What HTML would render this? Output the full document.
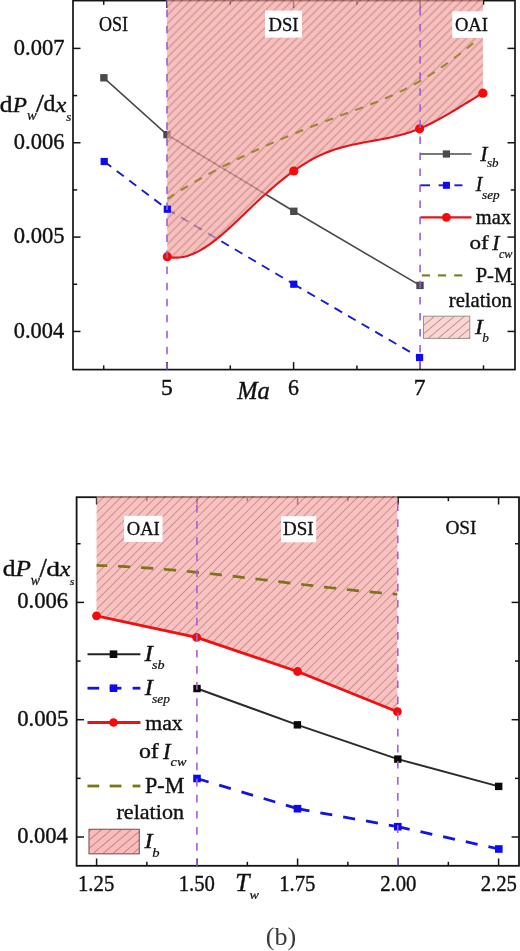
<!DOCTYPE html>
<html><head><meta charset="utf-8"><style>
html,body{margin:0;padding:0;background:#fff;}
svg{display:block;}
text{font-family:"Liberation Serif","DejaVu Serif",serif;font-variant-ligatures:none;}
</style></head><body>
<svg width="520" height="951" viewBox="0 0 520 951">
<defs>
<pattern id="h1" patternUnits="userSpaceOnUse" width="20" height="6.0" patternTransform="rotate(-45)">
<rect width="20" height="6.0" fill="#f6a4a1"/><line x1="0" y1="3.0" x2="20" y2="3.0" stroke="#944c4c" stroke-width="0.9"/></pattern>
<pattern id="h2" patternUnits="userSpaceOnUse" width="20" height="6.2" patternTransform="rotate(-45)">
<rect width="20" height="6.2" fill="#f6a6a4"/><line x1="0" y1="3.1" x2="20" y2="3.1" stroke="#8e4848" stroke-width="0.75"/></pattern>
<pattern id="hl" patternUnits="userSpaceOnUse" width="20" height="6.4" patternTransform="rotate(-40)">
<rect width="20" height="6.4" fill="#fad6d3"/><line x1="0" y1="3.2" x2="20" y2="3.2" stroke="#b88888" stroke-width="0.9"/></pattern>
<pattern id="hl2" patternUnits="userSpaceOnUse" width="20" height="6.4" patternTransform="rotate(-40)">
<rect width="20" height="6.4" fill="#f8bcbc"/><line x1="0" y1="3.2" x2="20" y2="3.2" stroke="#c07a7a" stroke-width="0.9"/></pattern>
</defs><rect x="73.00" y="0.60" width="442.00" height="369.00" fill="none" stroke="#141414" stroke-width="1.7"/><line x1="167.00" y1="369.60" x2="167.00" y2="362.10" stroke="#141414" stroke-width="1.50"/><line x1="167.00" y1="0.60" x2="167.00" y2="8.10" stroke="#141414" stroke-width="1.50"/><line x1="293.60" y1="369.60" x2="293.60" y2="362.10" stroke="#141414" stroke-width="1.50"/><line x1="293.60" y1="0.60" x2="293.60" y2="8.10" stroke="#141414" stroke-width="1.50"/><line x1="420.20" y1="369.60" x2="420.20" y2="362.10" stroke="#141414" stroke-width="1.50"/><line x1="420.20" y1="0.60" x2="420.20" y2="8.10" stroke="#141414" stroke-width="1.50"/><line x1="103.70" y1="369.60" x2="103.70" y2="365.40" stroke="#141414" stroke-width="1.50"/><line x1="103.70" y1="0.60" x2="103.70" y2="4.80" stroke="#141414" stroke-width="1.50"/><line x1="230.30" y1="369.60" x2="230.30" y2="365.40" stroke="#141414" stroke-width="1.50"/><line x1="230.30" y1="0.60" x2="230.30" y2="4.80" stroke="#141414" stroke-width="1.50"/><line x1="356.90" y1="369.60" x2="356.90" y2="365.40" stroke="#141414" stroke-width="1.50"/><line x1="356.90" y1="0.60" x2="356.90" y2="4.80" stroke="#141414" stroke-width="1.50"/><line x1="483.50" y1="369.60" x2="483.50" y2="365.40" stroke="#141414" stroke-width="1.50"/><line x1="483.50" y1="0.60" x2="483.50" y2="4.80" stroke="#141414" stroke-width="1.50"/><line x1="73.00" y1="331.45" x2="80.50" y2="331.45" stroke="#141414" stroke-width="1.50"/><line x1="515.00" y1="331.45" x2="507.50" y2="331.45" stroke="#141414" stroke-width="1.50"/><line x1="73.00" y1="237.10" x2="80.50" y2="237.10" stroke="#141414" stroke-width="1.50"/><line x1="515.00" y1="237.10" x2="507.50" y2="237.10" stroke="#141414" stroke-width="1.50"/><line x1="73.00" y1="142.75" x2="80.50" y2="142.75" stroke="#141414" stroke-width="1.50"/><line x1="515.00" y1="142.75" x2="507.50" y2="142.75" stroke="#141414" stroke-width="1.50"/><line x1="73.00" y1="48.40" x2="80.50" y2="48.40" stroke="#141414" stroke-width="1.50"/><line x1="515.00" y1="48.40" x2="507.50" y2="48.40" stroke="#141414" stroke-width="1.50"/><line x1="73.00" y1="284.28" x2="77.20" y2="284.28" stroke="#141414" stroke-width="1.50"/><line x1="515.00" y1="284.28" x2="510.80" y2="284.28" stroke="#141414" stroke-width="1.50"/><line x1="73.00" y1="189.93" x2="77.20" y2="189.93" stroke="#141414" stroke-width="1.50"/><line x1="515.00" y1="189.93" x2="510.80" y2="189.93" stroke="#141414" stroke-width="1.50"/><line x1="73.00" y1="95.58" x2="77.20" y2="95.58" stroke="#141414" stroke-width="1.50"/><line x1="515.00" y1="95.58" x2="510.80" y2="95.58" stroke="#141414" stroke-width="1.50"/><path d="M103.90 77.80 L167.00 134.60 L293.80 211.30 L420.00 285.40" fill="none" stroke="#4a4a4a" stroke-width="1.6"/><rect x="100.20" y="74.10" width="7.40" height="7.40" fill="#4a4a4a"/><rect x="163.30" y="130.90" width="7.40" height="7.40" fill="#4a4a4a"/><rect x="290.10" y="207.60" width="7.40" height="7.40" fill="#4a4a4a"/><rect x="416.30" y="281.70" width="7.40" height="7.40" fill="#4a4a4a"/><path d="M104.20 161.50 L167.30 209.20" fill="none" stroke="#1a1ad0" stroke-width="1.9" stroke-dasharray="8.8 6.9"/><path d="M167.30 209.20 L293.80 284.20" fill="none" stroke="#1a1ad0" stroke-width="1.9" stroke-dasharray="8.8 6.9"/><path d="M293.80 284.20 L419.60 357.50" fill="none" stroke="#1a1ad0" stroke-width="1.9" stroke-dasharray="8.8 6.9"/><path d="M167.0 0.00 L483.0 0.00 L483.0 93.2  L482.70 93.14 L481.30 93.97 L479.30 95.17 L477.30 96.38 L475.30 97.60 L473.30 98.82 L471.30 100.04 L469.30 101.27 L467.30 102.49 L465.30 103.72 L463.30 104.95 L461.30 106.17 L459.30 107.39 L457.30 108.60 L455.30 109.81 L453.30 111.01 L451.30 112.20 L449.30 113.37 L447.30 114.54 L445.30 115.69 L443.30 116.82 L441.30 117.94 L439.30 119.04 L437.30 120.12 L435.30 121.18 L433.30 122.22 L431.30 123.23 L429.30 124.22 L427.30 125.18 L425.30 126.11 L423.30 127.02 L421.30 127.89 L419.30 128.74 L417.30 129.54 L415.30 130.32 L413.30 131.06 L411.30 131.76 L409.30 132.43 L407.30 133.07 L405.30 133.68 L403.30 134.26 L401.30 134.82 L399.30 135.35 L397.30 135.85 L395.30 136.34 L393.30 136.80 L391.30 137.25 L389.30 137.68 L387.30 138.10 L385.30 138.50 L383.30 138.90 L381.30 139.28 L379.30 139.66 L377.30 140.02 L375.30 140.39 L373.30 140.75 L371.30 141.11 L369.30 141.47 L367.30 141.84 L365.30 142.20 L363.30 142.58 L361.30 142.96 L359.30 143.35 L357.30 143.75 L355.30 144.16 L353.30 144.59 L351.30 145.03 L349.30 145.49 L347.30 145.97 L345.30 146.47 L343.30 147.00 L341.30 147.54 L339.30 148.12 L337.30 148.72 L335.30 149.35 L333.30 150.01 L331.30 150.70 L329.30 151.43 L327.30 152.19 L325.30 153.00 L323.30 153.84 L321.30 154.72 L319.30 155.65 L317.30 156.62 L315.30 157.63 L313.30 158.68 L311.30 159.77 L309.30 160.91 L307.30 162.08 L305.30 163.30 L303.30 164.54 L301.30 165.83 L299.30 167.15 L297.30 168.51 L295.30 169.90 L293.30 171.32 L291.30 172.78 L289.30 174.26 L287.30 175.78 L285.30 177.33 L283.30 178.90 L281.30 180.50 L279.30 182.13 L277.30 183.79 L275.30 185.47 L273.30 187.17 L271.30 188.90 L269.30 190.64 L267.30 192.42 L265.30 194.21 L263.30 196.02 L261.30 197.85 L259.30 199.69 L257.30 201.56 L255.30 203.44 L253.30 205.33 L251.30 207.24 L249.30 209.16 L247.30 211.08 L245.30 213.00 L243.30 214.93 L241.30 216.85 L239.30 218.76 L237.30 220.67 L235.30 222.56 L233.30 224.44 L231.30 226.29 L229.30 228.13 L227.30 229.94 L225.30 231.72 L223.30 233.47 L221.30 235.18 L219.30 236.86 L217.30 238.49 L215.30 240.08 L213.30 241.62 L211.30 243.11 L209.30 244.55 L207.30 245.93 L205.30 247.25 L203.30 248.50 L201.30 249.69 L199.30 250.81 L197.30 251.86 L195.30 252.83 L193.30 253.73 L191.30 254.53 L189.30 255.26 L187.30 255.89 L185.30 256.44 L183.30 256.89 L181.30 257.24 L179.30 257.49 L177.30 257.63 L175.30 257.67 L173.30 257.59 L171.30 257.41 L169.30 257.10 L167.30 256.68 Z" fill="url(#h1)" opacity="0.7"/><rect x="100.60" y="157.90" width="7.20" height="7.20" fill="#0b0bee"/><rect x="163.70" y="205.60" width="7.20" height="7.20" fill="#0b0bee"/><rect x="290.20" y="280.60" width="7.20" height="7.20" fill="#0b0bee"/><rect x="416.00" y="353.90" width="7.20" height="7.20" fill="#0b0bee"/><path d="M167.30 198.83 L169.30 197.54 L171.30 196.26 L173.30 194.98 L175.30 193.72 L177.30 192.47 L179.30 191.23 L181.30 189.99 L183.30 188.77 L185.30 187.56 L187.30 186.36 L189.30 185.17 L191.30 183.98 L193.30 182.81 L195.30 181.65 L197.30 180.49 L199.30 179.35 L201.30 178.21 L203.30 177.08 L205.30 175.96 L207.30 174.85 L209.30 173.75 L211.30 172.66 L213.30 171.58 L215.30 170.50 L217.30 169.43 L219.30 168.38 L221.30 167.33 L223.30 166.28 L225.30 165.25 L227.30 164.22 L229.30 163.20 L231.30 162.19 L233.30 161.18 L235.30 160.19 L237.30 159.20 L239.30 158.22 L241.30 157.24 L243.30 156.27 L245.30 155.31 L247.30 154.36 L249.30 153.41 L251.30 152.47 L253.30 151.53 L255.30 150.60 L257.30 149.68 L259.30 148.77 L261.30 147.86 L263.30 146.95 L265.30 146.05 L267.30 145.16 L269.30 144.28 L271.30 143.39 L273.30 142.52 L275.30 141.65 L277.30 140.78 L279.30 139.92 L281.30 139.07 L283.30 138.22 L285.30 137.38 L287.30 136.54 L289.30 135.70 L291.30 134.87 L293.30 134.05 L295.30 133.22 L297.30 132.41 L299.30 131.59 L301.30 130.78 L303.30 129.98 L305.30 129.18 L307.30 128.38 L309.30 127.59 L311.30 126.80 L313.30 126.01 L315.30 125.23 L317.30 124.45 L319.30 123.67 L321.30 122.90 L323.30 122.13 L325.30 121.36 L327.30 120.60 L329.30 119.83 L331.30 119.07 L333.30 118.32 L335.30 117.56 L337.30 116.81 L339.30 116.06 L341.30 115.31 L343.30 114.57 L345.30 113.82 L347.30 113.08 L349.30 112.34 L351.30 111.60 L353.30 110.85 L355.30 110.11 L357.30 109.37 L359.30 108.62 L361.30 107.87 L363.30 107.11 L365.30 106.35 L367.30 105.59 L369.30 104.82 L371.30 104.04 L373.30 103.25 L375.30 102.46 L377.30 101.66 L379.30 100.84 L381.30 100.02 L383.30 99.19 L385.30 98.34 L387.30 97.49 L389.30 96.62 L391.30 95.73 L393.30 94.83 L395.30 93.92 L397.30 92.99 L399.30 92.04 L401.30 91.08 L403.30 90.10 L405.30 89.10 L407.30 88.08 L409.30 87.04 L411.30 85.98 L413.30 84.90 L415.30 83.79 L417.30 82.67 L419.30 81.52 L421.30 80.34 L423.30 79.15 L425.30 77.93 L427.30 76.69 L429.30 75.42 L431.30 74.14 L433.30 72.83 L435.30 71.51 L437.30 70.16 L439.30 68.80 L441.30 67.42 L443.30 66.02 L445.30 64.60 L447.30 63.16 L449.30 61.71 L451.30 60.25 L453.30 58.76 L455.30 57.26 L457.30 55.75 L459.30 54.22 L461.30 52.68 L463.30 51.13 L465.30 49.56 L467.30 47.99 L469.30 46.40 L471.30 44.80 L473.30 43.18 L475.30 41.56 L476.00 40.99" fill="none" stroke="#9c8534" stroke-width="2.1" stroke-dasharray="8.3 7.72"/><path d="M167.30 256.68 L169.30 257.10 L171.30 257.41 L173.30 257.59 L175.30 257.67 L177.30 257.63 L179.30 257.49 L181.30 257.24 L183.30 256.89 L185.30 256.44 L187.30 255.89 L189.30 255.26 L191.30 254.53 L193.30 253.73 L195.30 252.83 L197.30 251.86 L199.30 250.81 L201.30 249.69 L203.30 248.50 L205.30 247.25 L207.30 245.93 L209.30 244.55 L211.30 243.11 L213.30 241.62 L215.30 240.08 L217.30 238.49 L219.30 236.86 L221.30 235.18 L223.30 233.47 L225.30 231.72 L227.30 229.94 L229.30 228.13 L231.30 226.29 L233.30 224.44 L235.30 222.56 L237.30 220.67 L239.30 218.76 L241.30 216.85 L243.30 214.93 L245.30 213.00 L247.30 211.08 L249.30 209.16 L251.30 207.24 L253.30 205.33 L255.30 203.44 L257.30 201.56 L259.30 199.69 L261.30 197.85 L263.30 196.02 L265.30 194.21 L267.30 192.42 L269.30 190.64 L271.30 188.90 L273.30 187.17 L275.30 185.47 L277.30 183.79 L279.30 182.13 L281.30 180.50 L283.30 178.90 L285.30 177.33 L287.30 175.78 L289.30 174.26 L291.30 172.78 L293.30 171.32 L295.30 169.90 L297.30 168.51 L299.30 167.15 L301.30 165.83 L303.30 164.54 L305.30 163.30 L307.30 162.08 L309.30 160.91 L311.30 159.77 L313.30 158.68 L315.30 157.63 L317.30 156.62 L319.30 155.65 L321.30 154.72 L323.30 153.84 L325.30 153.00 L327.30 152.19 L329.30 151.43 L331.30 150.70 L333.30 150.01 L335.30 149.35 L337.30 148.72 L339.30 148.12 L341.30 147.54 L343.30 147.00 L345.30 146.47 L347.30 145.97 L349.30 145.49 L351.30 145.03 L353.30 144.59 L355.30 144.16 L357.30 143.75 L359.30 143.35 L361.30 142.96 L363.30 142.58 L365.30 142.20 L367.30 141.84 L369.30 141.47 L371.30 141.11 L373.30 140.75 L375.30 140.39 L377.30 140.02 L379.30 139.66 L381.30 139.28 L383.30 138.90 L385.30 138.50 L387.30 138.10 L389.30 137.68 L391.30 137.25 L393.30 136.80 L395.30 136.34 L397.30 135.85 L399.30 135.35 L401.30 134.82 L403.30 134.26 L405.30 133.68 L407.30 133.07 L409.30 132.43 L411.30 131.76 L413.30 131.06 L415.30 130.32 L417.30 129.54 L419.30 128.74 L421.30 127.89 L423.30 127.02 L425.30 126.11 L427.30 125.18 L429.30 124.22 L431.30 123.23 L433.30 122.22 L435.30 121.18 L437.30 120.12 L439.30 119.04 L441.30 117.94 L443.30 116.82 L445.30 115.69 L447.30 114.54 L449.30 113.37 L451.30 112.20 L453.30 111.01 L455.30 109.81 L457.30 108.60 L459.30 107.39 L461.30 106.17 L463.30 104.95 L465.30 103.72 L467.30 102.49 L469.30 101.27 L471.30 100.04 L473.30 98.82 L475.30 97.60 L477.30 96.38 L479.30 95.17 L481.30 93.97 L482.70 93.14" fill="none" stroke="#e3141b" stroke-width="2.1"/><circle cx="167.30" cy="256.70" r="4.60" fill="#f50a0a"/><circle cx="293.80" cy="171.00" r="4.60" fill="#f50a0a"/><circle cx="419.60" cy="128.80" r="4.60" fill="#f50a0a"/><circle cx="482.90" cy="93.20" r="4.60" fill="#f50a0a"/><line x1="167.00" y1="0.00" x2="167.00" y2="369.60" stroke="#9c5cd8" stroke-width="1.60" stroke-dasharray="7.5 8.55" stroke-dashoffset="6.25"/><line x1="420.10" y1="0.00" x2="420.10" y2="369.60" stroke="#9c5cd8" stroke-width="1.60" stroke-dasharray="7.5 8.55" stroke-dashoffset="8.05"/><rect x="265" y="10.6" width="37" height="27" fill="#fff"/><rect x="452.2" y="11.3" width="31" height="26.6" fill="#fff"/><line x1="420.60" y1="154.00" x2="471.50" y2="154.00" stroke="#4a4a4a" stroke-width="1.60"/><rect x="442.80" y="150.40" width="7.20" height="7.20" fill="#4a4a4a"/><line x1="420.60" y1="185.30" x2="430.00" y2="185.30" stroke="#1a1ad0" stroke-width="1.90"/><line x1="438.60" y1="185.30" x2="450.00" y2="185.30" stroke="#1a1ad0" stroke-width="1.90"/><line x1="454.40" y1="185.30" x2="462.50" y2="185.30" stroke="#1a1ad0" stroke-width="1.90"/><rect x="442.90" y="181.80" width="7.00" height="7.00" fill="#0b0bee"/><line x1="420.60" y1="217.40" x2="471.50" y2="217.40" stroke="#e3141b" stroke-width="2.10"/><circle cx="446.40" cy="217.40" r="4.40" fill="#f50a0a"/><line x1="421.90" y1="275.40" x2="430.00" y2="275.40" stroke="#7a7a1e" stroke-width="2.10"/><line x1="438.00" y1="275.40" x2="446.10" y2="275.40" stroke="#7a7a1e" stroke-width="2.10"/><line x1="454.20" y1="275.40" x2="462.30" y2="275.40" stroke="#7a7a1e" stroke-width="2.10"/><rect x="423.5" y="316.2" width="46.3" height="22.2" fill="url(#hl)" stroke="#a08e8e" stroke-width="1"/><text transform="translate(13.75 54.50) scale(1.006 1)" font-size="22.39" fill="#111" stroke="#111" stroke-width="0.39">0.007</text><text transform="translate(13.75 148.85) scale(1.006 1)" font-size="22.39" fill="#111" stroke="#111" stroke-width="0.39">0.006</text><text transform="translate(13.74 243.20) scale(1.011 1)" font-size="22.39" fill="#111" stroke="#111" stroke-width="0.39">0.005</text><text transform="translate(13.75 337.55) scale(1.001 1)" font-size="22.39" fill="#111" stroke="#111" stroke-width="0.39">0.004</text><text transform="translate(160.89 394.82) scale(1.014 1)" font-size="23.18" fill="#111" stroke="#111" stroke-width="0.41">5</text><text transform="translate(288.03 394.59) scale(0.957 1)" font-size="22.84" fill="#111" stroke="#111" stroke-width="0.40">6</text><text transform="translate(413.86 395.05) scale(0.998 1)" font-size="23.54" fill="#111" stroke="#111" stroke-width="0.41">7</text><text transform="translate(237.29 398.91) scale(0.998 1)" font-size="24.39" font-style="italic" fill="#111" stroke="#111" stroke-width="0.43">Ma</text><text transform="translate(98.93 30.74) scale(0.889 1)" font-size="20.30" fill="#111" stroke="#111" stroke-width="0.36">OSI</text><text transform="translate(268.59 30.95) scale(0.936 1)" font-size="19.85" fill="#111" stroke="#111" stroke-width="0.35">DSI</text><text transform="translate(454.91 30.76) scale(0.965 1)" font-size="19.26" fill="#111" stroke="#111" stroke-width="0.34">OAI</text><text transform="translate(-0.16 111.62) scale(1.108 1)" font-size="22.86" fill="#111" stroke="#111" stroke-width="0.40">d</text><text transform="translate(12.75 111.65) scale(1.086 1)" font-size="21.38" font-style="italic" fill="#111" stroke="#111" stroke-width="0.37">P</text><text transform="translate(26.92 120.21) scale(1.061 1)" font-size="13.62" font-style="italic" fill="#111" stroke="#111" stroke-width="0.24">w</text><text transform="translate(36.05 111.89) scale(1.089 1)" font-size="25.91" fill="#111" stroke="#111" stroke-width="0.45">/</text><text transform="translate(43.40 111.43) scale(1.067 1)" font-size="22.29" fill="#111" stroke="#111" stroke-width="0.39">d</text><text transform="translate(55.79 111.65) scale(1.105 1)" font-size="21.52" font-style="italic" fill="#111" stroke="#111" stroke-width="0.38">x</text><text transform="translate(66.22 120.52) scale(0.964 1)" font-size="13.33" font-style="italic" fill="#111" stroke="#111" stroke-width="0.23">s</text><text transform="translate(480.35 160.55) scale(1.022 1)" font-size="21.15" font-style="italic" fill="#111" stroke="#111" stroke-width="0.37">I</text><text transform="translate(486.92 167.34) scale(1.143 1)" font-size="11.43" font-style="italic" fill="#111" stroke="#111" stroke-width="0.20">sb</text><text transform="translate(475.75 191.45) scale(0.957 1)" font-size="20.62" font-style="italic" fill="#111" stroke="#111" stroke-width="0.36">I</text><text transform="translate(482.02 199.47) scale(1.002 1)" font-size="13.24" font-style="italic" fill="#111" stroke="#111" stroke-width="0.23">sep</text><text transform="translate(475.74 223.94) scale(0.953 1)" font-size="21.46" fill="#111" stroke="#111" stroke-width="0.38">max</text><text transform="translate(469.52 249.36) scale(1.213 1)" font-size="19.10" fill="#111" stroke="#111" stroke-width="0.33">of</text><text transform="translate(492.35 249.55) scale(1.065 1)" font-size="20.31" font-style="italic" fill="#111" stroke="#111" stroke-width="0.36">I</text><text transform="translate(498.88 257.52) scale(0.940 1)" font-size="13.12" font-style="italic" fill="#111" stroke="#111" stroke-width="0.23">cw</text><text transform="translate(475.63 282.45) scale(0.967 1)" font-size="21.23" fill="#111" stroke="#111" stroke-width="0.37">P-M</text><text transform="translate(448.74 306.85) scale(1.020 1)" font-size="20.29" fill="#111" stroke="#111" stroke-width="0.36">relation</text><text transform="translate(475.05 334.45) scale(1.154 1)" font-size="20.62" font-style="italic" fill="#111" stroke="#111" stroke-width="0.36">I</text><text transform="translate(482.22 342.23) scale(1.118 1)" font-size="11.86" font-style="italic" fill="#111" stroke="#111" stroke-width="0.21">b</text><rect x="76.60" y="497.20" width="442.40" height="368.60" fill="none" stroke="#141414" stroke-width="1.8"/><line x1="96.60" y1="865.80" x2="96.60" y2="858.50" stroke="#141414" stroke-width="1.50"/><line x1="96.60" y1="497.20" x2="96.60" y2="504.50" stroke="#141414" stroke-width="1.50"/><line x1="197.10" y1="865.80" x2="197.10" y2="858.50" stroke="#141414" stroke-width="1.50"/><line x1="197.10" y1="497.20" x2="197.10" y2="504.50" stroke="#141414" stroke-width="1.50"/><line x1="297.60" y1="865.80" x2="297.60" y2="858.50" stroke="#141414" stroke-width="1.50"/><line x1="297.60" y1="497.20" x2="297.60" y2="504.50" stroke="#141414" stroke-width="1.50"/><line x1="398.10" y1="865.80" x2="398.10" y2="858.50" stroke="#141414" stroke-width="1.50"/><line x1="398.10" y1="497.20" x2="398.10" y2="504.50" stroke="#141414" stroke-width="1.50"/><line x1="498.60" y1="865.80" x2="498.60" y2="858.50" stroke="#141414" stroke-width="1.50"/><line x1="498.60" y1="497.20" x2="498.60" y2="504.50" stroke="#141414" stroke-width="1.50"/><line x1="146.85" y1="865.80" x2="146.85" y2="861.80" stroke="#141414" stroke-width="1.50"/><line x1="146.85" y1="497.20" x2="146.85" y2="501.20" stroke="#141414" stroke-width="1.50"/><line x1="247.35" y1="865.80" x2="247.35" y2="861.80" stroke="#141414" stroke-width="1.50"/><line x1="247.35" y1="497.20" x2="247.35" y2="501.20" stroke="#141414" stroke-width="1.50"/><line x1="347.85" y1="865.80" x2="347.85" y2="861.80" stroke="#141414" stroke-width="1.50"/><line x1="347.85" y1="497.20" x2="347.85" y2="501.20" stroke="#141414" stroke-width="1.50"/><line x1="448.35" y1="865.80" x2="448.35" y2="861.80" stroke="#141414" stroke-width="1.50"/><line x1="448.35" y1="497.20" x2="448.35" y2="501.20" stroke="#141414" stroke-width="1.50"/><line x1="76.60" y1="837.00" x2="84.00" y2="837.00" stroke="#141414" stroke-width="1.50"/><line x1="519.00" y1="837.00" x2="511.60" y2="837.00" stroke="#141414" stroke-width="1.50"/><line x1="76.60" y1="719.70" x2="84.00" y2="719.70" stroke="#141414" stroke-width="1.50"/><line x1="519.00" y1="719.70" x2="511.60" y2="719.70" stroke="#141414" stroke-width="1.50"/><line x1="76.60" y1="602.40" x2="84.00" y2="602.40" stroke="#141414" stroke-width="1.50"/><line x1="519.00" y1="602.40" x2="511.60" y2="602.40" stroke="#141414" stroke-width="1.50"/><line x1="76.60" y1="778.35" x2="80.60" y2="778.35" stroke="#141414" stroke-width="1.50"/><line x1="519.00" y1="778.35" x2="515.00" y2="778.35" stroke="#141414" stroke-width="1.50"/><line x1="76.60" y1="661.05" x2="80.60" y2="661.05" stroke="#141414" stroke-width="1.50"/><line x1="519.00" y1="661.05" x2="515.00" y2="661.05" stroke="#141414" stroke-width="1.50"/><line x1="76.60" y1="543.75" x2="80.60" y2="543.75" stroke="#141414" stroke-width="1.50"/><line x1="519.00" y1="543.75" x2="515.00" y2="543.75" stroke="#141414" stroke-width="1.50"/><path d="M197.00 688.55 L297.40 724.85 L397.80 759.10 L498.70 786.40" fill="none" stroke="#2a2a2a" stroke-width="2"/><rect x="193.30" y="684.85" width="7.40" height="7.40" fill="#0a0a0a"/><rect x="293.70" y="721.15" width="7.40" height="7.40" fill="#0a0a0a"/><rect x="394.10" y="755.40" width="7.40" height="7.40" fill="#0a0a0a"/><rect x="495.00" y="782.70" width="7.40" height="7.40" fill="#0a0a0a"/><path d="M197.00 778.50 L297.50 808.70" fill="none" stroke="#1414dc" stroke-width="2.8" stroke-dasharray="12.1 11.1"/><path d="M297.50 808.70 L397.80 826.70" fill="none" stroke="#1414dc" stroke-width="2.8" stroke-dasharray="12.1 11.1"/><path d="M397.80 826.70 L498.80 849.00" fill="none" stroke="#1414dc" stroke-width="2.8" stroke-dasharray="12.1 11.1"/><rect x="193.20" y="774.70" width="7.60" height="7.60" fill="#0b0bee"/><rect x="293.70" y="804.90" width="7.60" height="7.60" fill="#0b0bee"/><rect x="394.00" y="822.90" width="7.60" height="7.60" fill="#0b0bee"/><rect x="495.00" y="845.20" width="7.60" height="7.60" fill="#0b0bee"/><path d="M96.6 496.30 L397.4 496.30 L397.4 711.7 L397.40 711.70 L297.60 671.50 L196.60 637.30 L96.50 615.80 Z" fill="url(#h2)" opacity="0.7"/><path d="M96.60 565.42 L98.60 565.48 L100.60 565.54 L102.60 565.60 L104.60 565.67 L106.60 565.74 L108.60 565.82 L110.60 565.89 L112.60 565.98 L114.60 566.06 L116.60 566.16 L118.60 566.25 L120.60 566.35 L122.60 566.45 L124.60 566.55 L126.60 566.66 L128.60 566.77 L130.60 566.89 L132.60 567.01 L134.60 567.13 L136.60 567.26 L138.60 567.38 L140.60 567.51 L142.60 567.65 L144.60 567.79 L146.60 567.93 L148.60 568.07 L150.60 568.22 L152.60 568.37 L154.60 568.52 L156.60 568.68 L158.60 568.83 L160.60 568.99 L162.60 569.16 L164.60 569.32 L166.60 569.49 L168.60 569.66 L170.60 569.84 L172.60 570.01 L174.60 570.19 L176.60 570.37 L178.60 570.55 L180.60 570.74 L182.60 570.93 L184.60 571.12 L186.60 571.31 L188.60 571.50 L190.60 571.70 L192.60 571.90 L194.60 572.10 L196.60 572.30 L198.60 572.50 L200.60 572.71 L202.60 572.91 L204.60 573.12 L206.60 573.33 L208.60 573.55 L210.60 573.76 L212.60 573.97 L214.60 574.19 L216.60 574.41 L218.60 574.63 L220.60 574.85 L222.60 575.07 L224.60 575.30 L226.60 575.52 L228.60 575.75 L230.60 575.97 L232.60 576.20 L234.60 576.43 L236.60 576.66 L238.60 576.89 L240.60 577.12 L242.60 577.36 L244.60 577.59 L246.60 577.82 L248.60 578.06 L250.60 578.30 L252.60 578.53 L254.60 578.77 L256.60 579.01 L258.60 579.24 L260.60 579.48 L262.60 579.72 L264.60 579.96 L266.60 580.20 L268.60 580.44 L270.60 580.68 L272.60 580.92 L274.60 581.16 L276.60 581.40 L278.60 581.64 L280.60 581.88 L282.60 582.12 L284.60 582.36 L286.60 582.60 L288.60 582.84 L290.60 583.08 L292.60 583.32 L294.60 583.56 L296.60 583.80 L298.60 584.04 L300.60 584.28 L302.60 584.51 L304.60 584.75 L306.60 584.99 L308.60 585.22 L310.60 585.46 L312.60 585.69 L314.60 585.92 L316.60 586.16 L318.60 586.39 L320.60 586.62 L322.60 586.85 L324.60 587.08 L326.60 587.31 L328.60 587.53 L330.60 587.76 L332.60 587.98 L334.60 588.20 L336.60 588.43 L338.60 588.65 L340.60 588.87 L342.60 589.08 L344.60 589.30 L346.60 589.51 L348.60 589.73 L350.60 589.94 L352.60 590.15 L354.60 590.36 L356.60 590.56 L358.60 590.77 L360.60 590.97 L362.60 591.17 L364.60 591.37 L366.60 591.57 L368.60 591.77 L370.60 591.96 L372.60 592.15 L374.60 592.34 L376.60 592.53 L378.60 592.71 L380.60 592.89 L382.60 593.07 L384.60 593.25 L386.60 593.43 L388.60 593.60 L390.60 593.77 L392.60 593.94 L394.60 594.10 L396.60 594.26 L397.20 594.31" fill="none" stroke="#7f7218" stroke-width="2.7" stroke-dasharray="12.2 10.8" stroke-dashoffset="1.5"/><path d="M96.50 615.80 L196.60 637.30 L297.60 671.50 L397.40 711.70" fill="none" stroke="#ee1111" stroke-width="2.8" stroke-linejoin="round"/><circle cx="96.50" cy="615.80" r="4.40" fill="#f50a0a"/><circle cx="196.60" cy="637.30" r="4.40" fill="#f50a0a"/><circle cx="297.60" cy="671.50" r="4.40" fill="#f50a0a"/><circle cx="397.40" cy="711.70" r="4.40" fill="#f50a0a"/><line x1="196.90" y1="497.20" x2="196.90" y2="865.80" stroke="#a062d8" stroke-width="1.60" stroke-dasharray="7.7 8.4" stroke-dashoffset="8.30"/><line x1="397.80" y1="497.20" x2="397.80" y2="865.80" stroke="#a062d8" stroke-width="1.60" stroke-dasharray="7.7 8.4" stroke-dashoffset="10.00"/><rect x="124.1" y="515.8" width="38.4" height="26.2" fill="#fff"/><rect x="281" y="516.2" width="35.2" height="26.1" fill="#fff"/><line x1="87.50" y1="654.20" x2="140.40" y2="654.20" stroke="#222" stroke-width="2.00"/><rect x="109.70" y="650.40" width="7.60" height="7.60" fill="#0a0a0a"/><line x1="87.50" y1="688.20" x2="99.20" y2="688.20" stroke="#1414dc" stroke-width="2.80"/><line x1="109.70" y1="688.20" x2="121.40" y2="688.20" stroke="#1414dc" stroke-width="2.80"/><line x1="132.60" y1="688.20" x2="140.40" y2="688.20" stroke="#1414dc" stroke-width="2.80"/><rect x="109.70" y="684.40" width="7.60" height="7.60" fill="#0b0bee"/><line x1="87.50" y1="722.50" x2="140.40" y2="722.50" stroke="#ee1111" stroke-width="2.80"/><circle cx="113.50" cy="722.50" r="4.30" fill="#f50a0a"/><line x1="87.50" y1="786.00" x2="99.20" y2="786.00" stroke="#777715" stroke-width="2.80"/><line x1="109.70" y1="786.00" x2="121.40" y2="786.00" stroke="#777715" stroke-width="2.80"/><line x1="132.60" y1="786.00" x2="140.40" y2="786.00" stroke="#777715" stroke-width="2.80"/><rect x="89" y="829.3" width="50.3" height="24.5" fill="url(#hl2)" stroke="#8a6060" stroke-width="1.2"/><text transform="translate(17.14 608.31) scale(1.019 1)" font-size="22.24" fill="#111" stroke="#111" stroke-width="0.39">0.006</text><text transform="translate(17.14 725.61) scale(1.024 1)" font-size="22.24" fill="#111" stroke="#111" stroke-width="0.39">0.005</text><text transform="translate(17.15 842.91) scale(1.014 1)" font-size="22.24" fill="#111" stroke="#111" stroke-width="0.39">0.004</text><text transform="translate(77.98 891.33) scale(0.926 1)" font-size="22.39" fill="#111" stroke="#111" stroke-width="0.39">1.25</text><text transform="translate(178.63 891.10) scale(0.926 1)" font-size="22.39" fill="#111" stroke="#111" stroke-width="0.39">1.50</text><text transform="translate(279.13 891.33) scale(0.926 1)" font-size="22.39" fill="#111" stroke="#111" stroke-width="0.39">1.75</text><text transform="translate(380.15 891.10) scale(0.926 1)" font-size="22.39" fill="#111" stroke="#111" stroke-width="0.39">2.00</text><text transform="translate(480.65 891.33) scale(0.926 1)" font-size="22.39" fill="#111" stroke="#111" stroke-width="0.39">2.25</text><text transform="translate(235.16 891.35) scale(1.007 1)" font-size="25.38" font-style="italic" fill="#111" stroke="#111" stroke-width="0.44">T</text><text transform="translate(249.43 898.72) scale(1.107 1)" font-size="12.77" font-style="italic" fill="#111" stroke="#111" stroke-width="0.22">w</text><text transform="translate(126.81 534.88) scale(0.992 1)" font-size="18.68" fill="#111" stroke="#111" stroke-width="0.33">OAI</text><text transform="translate(282.98 534.96) scale(0.978 1)" font-size="19.40" fill="#111" stroke="#111" stroke-width="0.34">DSI</text><text transform="translate(445.38 534.37) scale(1.009 1)" font-size="19.10" fill="#111" stroke="#111" stroke-width="0.33">OSI</text><text transform="translate(2.83 576.13) scale(1.147 1)" font-size="22.29" fill="#111" stroke="#111" stroke-width="0.39">d</text><text transform="translate(15.45 576.35) scale(1.109 1)" font-size="22.77" font-style="italic" fill="#111" stroke="#111" stroke-width="0.40">P</text><text transform="translate(30.64 585.01) scale(0.954 1)" font-size="14.47" font-style="italic" fill="#111" stroke="#111" stroke-width="0.25">w</text><text transform="translate(39.55 577.19) scale(1.002 1)" font-size="26.36" fill="#111" stroke="#111" stroke-width="0.46">/</text><text transform="translate(46.15 576.03) scale(1.253 1)" font-size="22.00" fill="#111" stroke="#111" stroke-width="0.38">d</text><text transform="translate(59.98 576.25) scale(1.063 1)" font-size="21.96" font-style="italic" fill="#111" stroke="#111" stroke-width="0.38">x</text><text transform="translate(69.73 584.64) scale(1.156 1)" font-size="10.62" font-style="italic" fill="#111" stroke="#111" stroke-width="0.19">s</text><text transform="translate(144.45 661.15) scale(1.061 1)" font-size="23.69" font-style="italic" fill="#111" stroke="#111" stroke-width="0.41">I</text><text transform="translate(152.01 668.72) scale(1.098 1)" font-size="12.86" font-style="italic" fill="#111" stroke="#111" stroke-width="0.23">sb</text><text transform="translate(144.75 695.15) scale(1.076 1)" font-size="22.62" font-style="italic" fill="#111" stroke="#111" stroke-width="0.40">I</text><text transform="translate(152.02 703.08) scale(1.147 1)" font-size="11.76" font-style="italic" fill="#111" stroke="#111" stroke-width="0.21">sep</text><text transform="translate(145.21 729.73) scale(0.998 1)" font-size="21.88" fill="#111" stroke="#111" stroke-width="0.38">max</text><text transform="translate(138.89 758.33) scale(1.090 1)" font-size="21.94" fill="#111" stroke="#111" stroke-width="0.38">of</text><text transform="translate(163.05 758.55) scale(0.964 1)" font-size="23.54" font-style="italic" fill="#111" stroke="#111" stroke-width="0.41">I</text><text transform="translate(170.62 765.82) scale(1.082 1)" font-size="13.12" font-style="italic" fill="#111" stroke="#111" stroke-width="0.23">cw</text><text transform="translate(145.09 792.75) scale(0.990 1)" font-size="22.31" fill="#111" stroke="#111" stroke-width="0.39">P-M</text><text transform="translate(116.51 819.44) scale(1.068 1)" font-size="20.71" fill="#111" stroke="#111" stroke-width="0.36">relation</text><text transform="translate(144.45 848.45) scale(1.106 1)" font-size="22.00" font-style="italic" fill="#111" stroke="#111" stroke-width="0.38">I</text><text transform="translate(152.26 857.12) scale(1.140 1)" font-size="12.86" font-style="italic" fill="#111" stroke="#111" stroke-width="0.22">b</text><text transform="translate(265.81 945.13) scale(1.031 1)" font-size="25.33" fill="#3a3a3a" stroke="#3a3a3a" stroke-width="0.00">(b)</text>
</svg>
</body></html>
